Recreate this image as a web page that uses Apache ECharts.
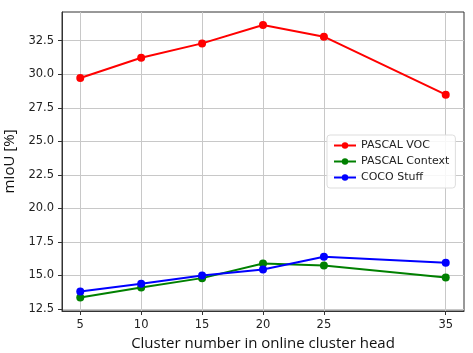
<!DOCTYPE html>
<html>
<head>
<meta charset="utf-8">
<script src="https://cdn.jsdelivr.net/npm/echarts@6/dist/echarts.min.js"></script>
<style>
	html, body { margin: 0; padding: 0; background: #fff; }
	#chartDiv { width: 473px; height: 353px; }
</style>
</head>
<body>
<div id="chartDiv"></div>
<script>
	// cluster numbers on the x axis
	var clusters = [5, 10, 15, 20, 25, 35];
	var yTicks = [12.5, 15.0, 17.5, 20.0, 22.5, 25.0, 27.5, 30.0, 32.5];
	var pascalVoc = [29.72, 31.23, 32.3, 33.67, 32.8, 28.48];
	var pascalContext = [13.36, 14.11, 14.8, 15.89, 15.74, 14.85];
	var cocoStuff = [13.81, 14.38, 15.0, 15.45, 16.39, 15.94];

	function pairs(vals) {
		return clusters.map(function(c, i) { return [c, vals[i]]; });
	}
	function line(name, color, vals) {
		return {
			name: name,
			type: 'line',
			data: pairs(vals),
			symbol: 'circle',
			symbolSize: 8,
			lineStyle: { color: color, width: 2 },
			itemStyle: { color: color },
			z: 5
		};
	}

	var chart = echarts.init(document.getElementById('chartDiv'));
	chart.setOption({
		animation: false,
		grid: {
			left: 62, right: 9, top: 12, bottom: 42,
			outerBoundsMode: 'none', containLabel: false,
			show: true, borderColor: '#333', borderWidth: 1
		},
		xAxis: {
			type: 'value', min: 3.5, max: 36.5,
			name: 'Cluster number in online cluster head',
			nameLocation: 'middle', nameGap: 25,
			nameTextStyle: { fontFamily: 'Open Sans', fontSize: 15, color: '#111' },
			axisLine: { lineStyle: { color: '#333' } },
			axisTick: { customValues: clusters, length: 4, lineStyle: { color: '#333' } },
			axisLabel: { customValues: clusters, fontFamily: 'DejaVu Sans', fontSize: 11.5, color: '#222', margin: 8 },
			splitLine: { show: true, lineStyle: { color: '#c8c8c8', width: 1 } }
		},
		yAxis: {
			type: 'value', min: 12.35, max: 34.64,
			name: 'mIoU [%]',
			nameLocation: 'middle', nameGap: 37, nameRotate: 90,
			nameTextStyle: { fontFamily: 'Open Sans', fontSize: 15, color: '#111' },
			axisLine: { show: true, lineStyle: { color: '#333' } },
			axisTick: { show: true, customValues: yTicks, length: 4, lineStyle: { color: '#333' } },
			axisLabel: {
				customValues: yTicks, fontFamily: 'DejaVu Sans', fontSize: 11.5, color: '#222', margin: 8,
				formatter: function(v) { return v.toFixed(1); }
			},
			splitLine: { show: true, lineStyle: { color: '#c8c8c8', width: 1 } }
		},
		legend: {
			left: 327, top: 135, orient: 'vertical',
			itemWidth: 22, itemHeight: 8, itemGap: 5,
			padding: [5, 6, 5, 6],
			backgroundColor: 'rgba(255,255,255,0.85)',
			borderColor: '#ddd', borderWidth: 1, borderRadius: 3,
			textStyle: { fontFamily: 'DejaVu Sans', fontSize: 11, color: '#222' },
			data: ['PASCAL VOC', 'PASCAL Context', 'COCO Stuff']
		},
		series: [
			line('PASCAL VOC', '#ff0000', pascalVoc),
			line('PASCAL Context', '#008000', pascalContext),
			line('COCO Stuff', '#0000ff', cocoStuff)
		]
	});
</script>
</body>
</html>
